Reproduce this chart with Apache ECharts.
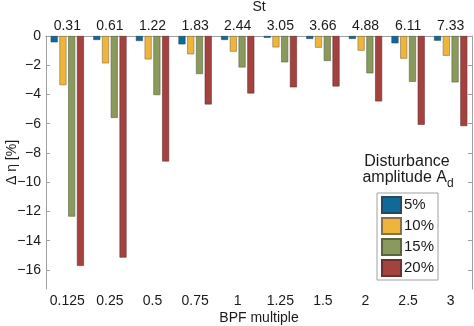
<!DOCTYPE html>
<html>
<head>
<meta charset="utf-8">
<script src="https://cdn.jsdelivr.net/npm/echarts@6/dist/echarts.min.js"></script>
<style>html,body{margin:0;padding:0;background:#fff}#c{width:474px;height:326px}</style>
</head>
<body>
<div id="c"></div>
<script>
const bpf = ['0.125','0.25','0.5','0.75','1','1.25','1.5','2','2.5','3'];
const st = ['0.31','0.61','1.22','1.83','2.44','3.05','3.66','4.88','6.11','7.33'];
const amps = ['5%','10%','15%','20%'];
const s5  = [-0.43,-0.27,-0.34,-0.57,-0.27,-0.12,-0.20,-0.20,-0.50,-0.32];
const s10 = [-3.36,-1.87,-1.60,-1.25,-1.07,-0.78,-0.80,-1.00,-1.55,-1.35];
const s15 = [-12.35,-5.60,-4.04,-2.60,-2.15,-1.80,-1.71,-2.55,-3.13,-3.17];
const s20 = [-15.72,-15.15,-8.58,-4.68,-3.93,-3.51,-3.45,-4.47,-6.07,-6.16];
const yTicks = [0,-2,-4,-6,-8,-10,-12,-14,-16];

const colors = ['#0f6a98','#eeb43c','#8a9a5c','#a3423e'];
const borders = ['#244a60','#8a7040','#5a6440','#6a3030'];
const F = 'Liberation Sans, Arial, Helvetica, sans-serif';
const axisCol = '#a0a0a0';

const chart = echarts.init(document.getElementById('c'));
const series = [s5,s10,s15,s20].map((d,i)=>({
  name: amps[i], type:'bar', data:d, barWidth:7, barGap:'25%',
  xAxisIndex:0, yAxisIndex:0,
  itemStyle:{color:colors[i], borderColor:borders[i], borderWidth:0.6}
}));

chart.setOption({
  animation:false,
  textStyle:{fontFamily:F},
  grid:{left:46, right:2, top:36, bottom:37, containLabel:false, outerBoundsMode:'none'},
  xAxis:[
    {type:'category', data:bpf, position:'bottom',
     axisLine:{lineStyle:{color:axisCol}},
     axisTick:{inside:true, alignWithLabel:true, interval:0, length:4, lineStyle:{color:axisCol}},
     axisLabel:{color:'#1a1a1a', fontSize:14, margin:5, interval:0, fontFamily:F},
     name:'BPF multiple', nameLocation:'middle', nameGap:22, nameMoveOverlap:false,
     nameTextStyle:{color:'#1a1a1a', fontSize:14, fontFamily:F}},
    {type:'category', data:st, position:'top',
     axisLine:{lineStyle:{color:axisCol}},
     axisTick:{inside:true, alignWithLabel:true, interval:0, length:4, lineStyle:{color:axisCol}},
     axisLabel:{color:'#1a1a1a', fontSize:14, margin:3, interval:0, fontFamily:F},
     name:'St', nameLocation:'middle', nameGap:22, nameMoveOverlap:false,
     nameTextStyle:{color:'#1a1a1a', fontSize:14, fontFamily:F}}
  ],
  yAxis:[
    {type:'value', min:-17.3, max:0, position:'left',
     splitLine:{show:false},
     axisLine:{show:true, lineStyle:{color:axisCol}},
     axisTick:{show:true, inside:true, length:4, customValues:yTicks, lineStyle:{color:axisCol}},
     axisLabel:{color:'#1a1a1a', fontSize:14, margin:5, customValues:yTicks, fontFamily:F,
       formatter:v=>String(v).replace('-','\u2212')},
     name:'\u0394 \u03b7 [%]', nameLocation:'middle', nameGap:27, nameRotate:90, nameMoveOverlap:false,
     nameTextStyle:{color:'#1a1a1a', fontSize:14, fontFamily:F}},
    {type:'value', min:-17.3, max:0, position:'right',
     splitLine:{show:false},
     axisLine:{show:true, lineStyle:{color:axisCol}},
     axisTick:{show:true, inside:true, length:4, customValues:yTicks, lineStyle:{color:axisCol}},
     axisLabel:{show:false}}
  ],
  legend:{
    data:amps, orient:'vertical', left:377, top:193,
    itemWidth:19, itemHeight:16, itemGap:3, icon:'rect',
    padding:[3,4,3,4], borderColor:'#a0a0a0', borderWidth:1, borderRadius:0,
    textStyle:{fontSize:15, color:'#1a1a1a', fontFamily:F, padding:[0,0,0,-2]}
  },
  graphic:[
    {type:'text', x:407, y:162, style:{text:'Disturbance', font:'16px '+F, fill:'#1a1a1a', align:'center', verticalAlign:'middle'}},
    {type:'text', x:408, y:178, style:{text:'{a|amplitude A}{s|d}', align:'center', verticalAlign:'middle',
      rich:{a:{font:'16px '+F, fill:'#1a1a1a'}, s:{font:'12px '+F, fill:'#1a1a1a', padding:[12,0,0,0]}}}}
  ],
  series: series
});
</script>
</body>
</html>
